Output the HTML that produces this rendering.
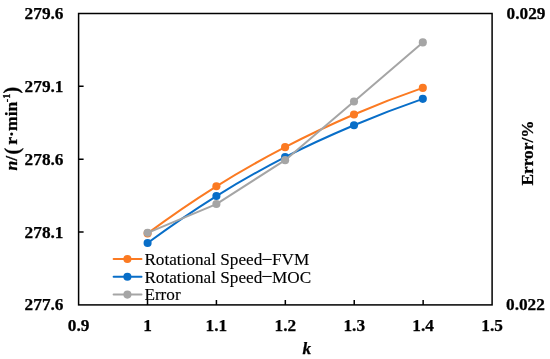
<!DOCTYPE html>
<html><head><meta charset="utf-8"><title>chart</title>
<style>
html,body{margin:0;padding:0;background:#fff;}
body{width:550px;height:359px;overflow:hidden;}
svg{display:block;}
text{font-family:"Liberation Serif",serif;fill:#000;}
.tk{font-size:17.3px;font-weight:bold;stroke:#000;stroke-width:0.25px;}
.lg{font-size:17.2px;stroke:#000;stroke-width:0.12px;}
</style></head><body>
<svg width="550" height="359" viewBox="0 0 550 359">
<rect width="550" height="359" fill="#fff"/>
<path d="M147.60 233.40 C170.55 216.38 193.48 200.68 216.40 186.30 C239.32 171.93 262.17 159.12 285.10 147.15 C308.03 135.18 331.05 124.38 354.00 114.50 C376.95 104.62 399.88 95.76 422.80 87.90" fill="none" stroke="#FB7A22" stroke-width="2.0" stroke-linecap="round" stroke-linejoin="round"/>
<circle cx="147.60" cy="233.40" r="4.05" fill="#FB7A22"/>
<circle cx="216.40" cy="186.30" r="4.05" fill="#FB7A22"/>
<circle cx="285.10" cy="147.15" r="4.05" fill="#FB7A22"/>
<circle cx="354.00" cy="114.50" r="4.05" fill="#FB7A22"/>
<circle cx="422.80" cy="87.90" r="4.05" fill="#FB7A22"/>
<path d="M147.60 243.05 C170.55 226.04 193.48 210.38 216.40 196.05 C239.32 181.73 262.17 168.90 285.10 157.10 C308.03 145.30 331.05 134.96 354.00 125.25 C376.95 115.54 399.88 106.74 422.80 98.85" fill="none" stroke="#086EC8" stroke-width="2.0" stroke-linecap="round" stroke-linejoin="round"/>
<circle cx="147.60" cy="243.05" r="4.05" fill="#086EC8"/>
<circle cx="216.40" cy="196.05" r="4.05" fill="#086EC8"/>
<circle cx="285.10" cy="157.10" r="4.05" fill="#086EC8"/>
<circle cx="354.00" cy="125.25" r="4.05" fill="#086EC8"/>
<circle cx="422.80" cy="98.85" r="4.05" fill="#086EC8"/>
<path d="M147.60 232.80 L216.40 204.05 L285.10 160.15 L354.00 101.55 L422.80 42.40" fill="none" stroke="#A5A5A5" stroke-width="2.0" stroke-linecap="round" stroke-linejoin="round"/>
<circle cx="147.60" cy="232.80" r="4.05" fill="#A5A5A5"/>
<circle cx="216.40" cy="204.05" r="4.05" fill="#A5A5A5"/>
<circle cx="285.10" cy="160.15" r="4.05" fill="#A5A5A5"/>
<circle cx="354.00" cy="101.55" r="4.05" fill="#A5A5A5"/>
<circle cx="422.80" cy="42.40" r="4.05" fill="#A5A5A5"/>
<path d="M113.6 259.00 H141.5" stroke="#FB7A22" stroke-width="2.0" stroke-linecap="round"/>
<circle cx="127.4" cy="259.00" r="4.05" fill="#FB7A22"/>
<text x="144.4" y="265.40" class="lg">Rotational Speed<tspan dx="-1.0" dy="0.6" style="font-size:20.3px">−</tspan><tspan dx="-0.7" dy="-0.6">FVM</tspan></text>
<path d="M113.6 276.80 H141.5" stroke="#086EC8" stroke-width="2.0" stroke-linecap="round"/>
<circle cx="127.4" cy="276.80" r="4.05" fill="#086EC8"/>
<text x="144.4" y="282.55" class="lg">Rotational Speed<tspan dx="-1.0" dy="0.6" style="font-size:20.3px">−</tspan><tspan dx="-0.7" dy="-0.6">MOC</tspan></text>
<path d="M113.6 294.60 H141.5" stroke="#A5A5A5" stroke-width="2.0" stroke-linecap="round"/>
<circle cx="127.4" cy="294.60" r="4.05" fill="#A5A5A5"/>
<text x="144.4" y="299.70" class="lg">Error</text>
<rect x="78.6" y="13.5" width="413.5" height="291.4" fill="none" stroke="#000" stroke-width="1.5"/>
<path d="M147.51 304.90 v-5 M216.42 304.90 v-5 M285.33 304.90 v-5 M354.23 304.90 v-5 M423.14 304.90 v-5 M78.60 86.35 h5 M78.60 159.20 h5 M78.60 232.05 h5 " stroke="#000" stroke-width="1.5" fill="none"/>
<text x="63.5" y="19.10" class="tk" text-anchor="end">279.6</text>
<text x="63.5" y="92.35" class="tk" text-anchor="end">279.1</text>
<text x="63.5" y="164.60" class="tk" text-anchor="end">278.6</text>
<text x="63.5" y="237.55" class="tk" text-anchor="end">278.1</text>
<text x="63.5" y="309.90" class="tk" text-anchor="end">277.6</text>
<text x="78.60" y="330.9" class="tk" text-anchor="middle">0.9</text>
<text x="147.51" y="330.9" class="tk" text-anchor="middle">1</text>
<text x="216.42" y="330.9" class="tk" text-anchor="middle">1.1</text>
<text x="285.33" y="330.9" class="tk" text-anchor="middle">1.2</text>
<text x="354.23" y="330.9" class="tk" text-anchor="middle">1.3</text>
<text x="423.14" y="330.9" class="tk" text-anchor="middle">1.4</text>
<text x="492.05" y="330.9" class="tk" text-anchor="middle">1.5</text>
<text x="545.5" y="18.6" class="tk" text-anchor="end">0.029</text>
<text x="544.9" y="309.8" class="tk" text-anchor="end">0.022</text>
<text x="306.8" y="354.2" class="tk" text-anchor="middle" font-style="italic">k</text>
<text transform="translate(16.6 128.6) rotate(-90)" class="tk" text-anchor="middle" style="font-size:17.6px"><tspan font-style="italic">n</tspan>/<tspan dx="1.2" dy="2" style="font-size:20px">(</tspan><tspan dx="-1.2" dy="-2"> r·min</tspan><tspan dx="-0.6" dy="-6.8" style="font-size:10.3px">-1</tspan><tspan dx="0.3" dy="8.4" style="font-size:20px">)</tspan></text>
<text transform="translate(533.2 153) rotate(-90)" class="tk" text-anchor="middle">Error/%</text>
</svg>
</body></html>
